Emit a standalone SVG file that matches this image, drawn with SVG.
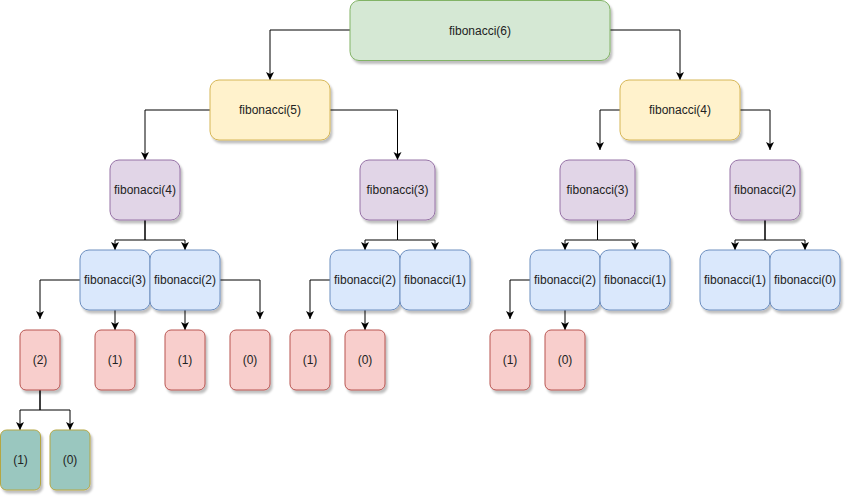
<svg xmlns="http://www.w3.org/2000/svg" width="852" height="502" viewBox="0 0 852 502">
<style>
text{font-family:"Liberation Sans",Arial,sans-serif;font-size:12px;fill:#222;text-anchor:middle;dominant-baseline:central}
.n rect{filter:url(#sh);stroke-width:1}
.green rect{fill:#d5e8d4;stroke:#82b366}
.yellow rect{fill:#fff2cc;stroke:#d6b656}
.purple rect{fill:#e1d5e7;stroke:#9673a6}
.blue rect{fill:#dae8fc;stroke:#6c8ebf}
.pink rect{fill:#f8cecc;stroke:#b85450}
.teal rect{fill:#9ac7bf;stroke:#b5a642}
#edges path{fill:none;stroke:#000;stroke-width:1;marker-end:url(#arr)}
</style>
<defs>
<filter id="sh" x="-20%" y="-20%" width="150%" height="150%">
<feDropShadow dx="2" dy="3" stdDeviation="1.2" flood-color="#000" flood-opacity="0.25"/>
</filter>
<marker id="arr" markerUnits="userSpaceOnUse" markerWidth="9" markerHeight="9" refX="8" refY="4" orient="auto">
<path d="M0,0 L8,4 L0,8 L2,4 z" fill="#000"/>
</marker>
</defs>
<rect width="852" height="502" fill="#fff"/>
<g id="edges">
<path d="M350,30 H270 V80"/>
<path d="M610,30 H680 V80"/>
<path d="M210,110 H145 V160"/>
<path d="M330,110 H397.5 V160"/>
<path d="M620,110 H600 V150"/>
<path d="M740,110 H770 V150"/>
<path d="M145,220 V240 H115 V250"/>
<path d="M145,220 V240 H185 V250"/>
<path d="M397.5,220 V240 H365 V250"/>
<path d="M397.5,220 V240 H435 V250"/>
<path d="M597.5,220 V240 H565 V250"/>
<path d="M597.5,220 V240 H635 V250"/>
<path d="M765,220 V240 H735 V250"/>
<path d="M765,220 V240 H805 V250"/>
<path d="M80,280 H40 V319"/>
<path d="M115,310 V330"/>
<path d="M185,310 V330"/>
<path d="M220,280 H260 V319"/>
<path d="M330,280 H310 V319"/>
<path d="M365,310 V330"/>
<path d="M530,280 H510 V319"/>
<path d="M565,310 V330"/>
<path d="M40,390 V410 H20 V430"/>
<path d="M40,390 V410 H70 V430"/>
</g>
<g id="fib6" class="n green"><rect x="350" y="0.5" width="260" height="60" rx="9"/><text x="480" y="30.5">fibonacci(6)</text></g>
<g id="fib5" class="n yellow"><rect x="210" y="80" width="120" height="60" rx="9"/><text x="270" y="110">fibonacci(5)</text></g>
<g id="fib4a" class="n yellow"><rect x="620" y="80" width="120" height="60" rx="9"/><text x="680" y="110">fibonacci(4)</text></g>
<g id="fib4b" class="n purple"><rect x="110" y="160" width="70" height="60" rx="9"/><text x="145" y="190">fibonacci(4)</text></g>
<g id="fib3a" class="n purple"><rect x="360" y="160" width="75" height="60" rx="9"/><text x="397.5" y="190">fibonacci(3)</text></g>
<g id="fib3b" class="n purple"><rect x="560" y="160" width="75" height="60" rx="9"/><text x="597.5" y="190">fibonacci(3)</text></g>
<g id="fib2a" class="n purple"><rect x="730" y="160" width="70" height="60" rx="9"/><text x="765" y="190">fibonacci(2)</text></g>
<g id="b1" class="n blue"><rect x="80" y="250" width="70" height="60" rx="9"/><text x="115" y="280">fibonacci(3)</text></g>
<g id="b2" class="n blue"><rect x="150" y="250" width="70" height="60" rx="9"/><text x="185" y="280">fibonacci(2)</text></g>
<g id="b3" class="n blue"><rect x="330" y="250" width="70" height="60" rx="9"/><text x="365" y="280">fibonacci(2)</text></g>
<g id="b4" class="n blue"><rect x="400" y="250" width="70" height="60" rx="9"/><text x="435" y="280">fibonacci(1)</text></g>
<g id="b5" class="n blue"><rect x="530" y="250" width="70" height="60" rx="9"/><text x="565" y="280">fibonacci(2)</text></g>
<g id="b6" class="n blue"><rect x="600" y="250" width="70" height="60" rx="9"/><text x="635" y="280">fibonacci(1)</text></g>
<g id="b7" class="n blue"><rect x="700" y="250" width="70" height="60" rx="9"/><text x="735" y="280">fibonacci(1)</text></g>
<g id="b8" class="n blue"><rect x="770" y="250" width="70" height="60" rx="9"/><text x="805" y="280">fibonacci(0)</text></g>
<g id="p1" class="n pink"><rect x="20" y="330" width="40" height="60" rx="6"/><text x="40" y="360">(2)</text></g>
<g id="p2" class="n pink"><rect x="95" y="330" width="40" height="60" rx="6"/><text x="115" y="360">(1)</text></g>
<g id="p3" class="n pink"><rect x="165" y="330" width="40" height="60" rx="6"/><text x="185" y="360">(1)</text></g>
<g id="p4" class="n pink"><rect x="230" y="330" width="40" height="60" rx="6"/><text x="250" y="360">(0)</text></g>
<g id="p5" class="n pink"><rect x="290" y="330" width="40" height="60" rx="6"/><text x="310" y="360">(1)</text></g>
<g id="p6" class="n pink"><rect x="345" y="330" width="40" height="60" rx="6"/><text x="365" y="360">(0)</text></g>
<g id="p7" class="n pink"><rect x="490" y="330" width="40" height="60" rx="6"/><text x="510" y="360">(1)</text></g>
<g id="p8" class="n pink"><rect x="545" y="330" width="40" height="60" rx="6"/><text x="565" y="360">(0)</text></g>
<g id="t1" class="n teal"><rect x="0.5" y="430" width="40" height="60" rx="6"/><text x="20.5" y="460">(1)</text></g>
<g id="t2" class="n teal"><rect x="50" y="430" width="40" height="60" rx="6"/><text x="70" y="460">(0)</text></g>
</svg>
